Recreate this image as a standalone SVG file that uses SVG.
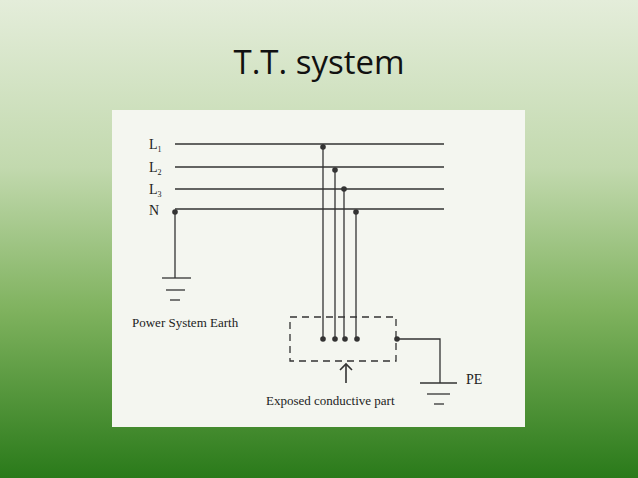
<svg xmlns="http://www.w3.org/2000/svg" width="638" height="478" viewBox="0 0 638 478">
<defs>
<linearGradient id="bg" x1="0" y1="0" x2="0" y2="1">
<stop offset="0" stop-color="#e4edda"/><stop offset="0.35" stop-color="#c2d9ae"/><stop offset="0.65" stop-color="#7fb25e"/><stop offset="1" stop-color="#2a7a1a"/>
</linearGradient>
</defs>
<style>
.w{stroke:#333;stroke-width:1.3;fill:none}
.d{fill:#333}
.t{font-family:"Liberation Serif",serif;fill:#222;font-size:14px}
</style>
<rect width="638" height="478" fill="url(#bg)"/>
<text x="319" y="74" text-anchor="middle" font-family="Open Sans, sans-serif" font-size="33" fill="#111">T.T. system</text>
<rect x="112" y="110" width="413" height="317" fill="#f4f6f0"/>
<g id="labels" class="t">
<text x="149" y="149">L<tspan font-size="8" dy="3">1</tspan></text>
<text x="149" y="172">L<tspan font-size="8" dy="3">2</tspan></text>
<text x="149" y="194">L<tspan font-size="8" dy="3">3</tspan></text>
<text x="149" y="215">N</text>
<text x="132" y="327" font-size="13">Power System Earth</text>
<text x="266" y="405" font-size="13">Exposed conductive part</text>
<text x="466" y="384" font-size="14">PE</text>
</g>
<g id="connectors" class="w">
<line x1="175" y1="144" x2="444" y2="144"/>
<line x1="175" y1="167" x2="444" y2="167"/>
<line x1="175" y1="189" x2="444" y2="189"/>
<line x1="175" y1="209" x2="444" y2="209"/>
<polyline points="323,144 323,339"/>
<polyline points="335,169 335,339"/>
<polyline points="344,189 344,339"/>
<polyline points="356,212 356,339"/>
<polyline points="175,212 175,278"/>
<polyline points="396,339 440,339 440,383"/>
<line x1="346" y1="383" x2="346" y2="364" stroke-width="1.6"/>
<path d="M340,370 L346,364 L352,370" stroke-width="1.6"/>
</g>
<g id="earth1" class="w">
<line x1="162" y1="278" x2="191" y2="278"/>
<line x1="166" y1="290" x2="185" y2="290"/>
<line x1="170" y1="300" x2="180" y2="300"/>
</g>
<g id="earth2" class="w">
<line x1="420" y1="383" x2="457" y2="383"/>
<line x1="427" y1="394" x2="450" y2="394"/>
<line x1="434" y1="404" x2="444" y2="404"/>
</g>
<g id="part">
<rect x="290" y="317" width="106" height="44" fill="none" stroke="#333" stroke-width="1.3" stroke-dasharray="7,5"/>
</g>
<g id="dots" class="d">
<circle cx="323" cy="147" r="2.8"/><circle cx="335" cy="170" r="2.8"/><circle cx="344" cy="189" r="2.8"/><circle cx="356" cy="212" r="2.8"/><circle cx="175" cy="212" r="2.8"/>
<circle cx="323" cy="339" r="2.8"/><circle cx="335" cy="339" r="2.8"/><circle cx="345" cy="339" r="2.8"/><circle cx="357" cy="339" r="2.8"/><circle cx="397" cy="339" r="2.8"/>
</g>
</svg>
